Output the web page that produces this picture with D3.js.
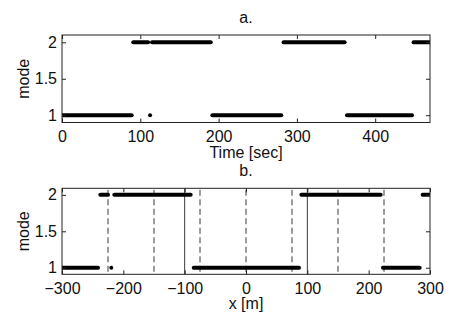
<!DOCTYPE html>
<html>
<head>
<meta charset="utf-8">
<script src="https://cdn.jsdelivr.net/npm/d3@7"></script>
<style>
  html, body { margin: 0; padding: 0; background: #fff; }
  svg { display: block; }
  text { font-family: "Liberation Sans", Arial, Helvetica, sans-serif; fill: #111; }
</style>
</head>
<body>
<svg id="chart" width="474" height="322"></svg>
<script>
// Panel a: mode as a function of time [sec] (segments of constant mode)
const timeMode1 = [[0, 89], [112.5, 112.5], [192, 280], [364, 447]];
const timeMode2 = [[91, 110], [115, 190], [283, 361], [449, 470]];
const timeTicks = [0, 100, 200, 300, 400];
const timeDomain = [0, 470];

// Panel b: mode as a function of position x [m]
const posMode1 = [[-300, -241.3], [-219.6, -219.6], [-85.2, 86.4], [223.3, 283.2]];
const posMode2 = [[-237.5, -225], [-214.7, -90.2], [90.3, 219.6], [288, 300]];
const posTicks = [-300, -200, -100, 0, 100, 200, 300];
const posDomain = [-300, 300];
const solidMarkers = [-100, 100];
const dashedMarkers = [-225, -150, -75, 0, 75, 150, 225];

const modeTicks = [1, 1.5, 2];

const svg = d3.select("#chart");
const left = 62, right = 430;
const fontSize = 16;

function panel(opts) {
  const { top, height, xDomain, yDomain, xTicks, title, xLabel, mode1, mode2, solid, dashed, id } = opts;
  const x = d3.scaleLinear().domain(xDomain).range([left, right]);
  const y = d3.scaleLinear().domain(yDomain).range([top + height, top]);
  const g = svg.append("g");

  g.append("clipPath").attr("id", id)
    .append("rect").attr("x", left).attr("y", top)
    .attr("width", right - left).attr("height", height);

  // reference lines
  const refs = g.append("g").attr("clip-path", `url(#${id})`);
  refs.selectAll("line.solid").data(solid || []).join("line")
    .attr("class", "solid")
    .attr("x1", d => x(d)).attr("x2", d => x(d))
    .attr("y1", top).attr("y2", top + height)
    .attr("stroke", "#222").attr("stroke-width", 0.9);
  refs.selectAll("line.dashed").data(dashed || []).join("line")
    .attr("class", "dashed")
    .attr("x1", d => x(d)).attr("x2", d => x(d))
    .attr("y1", top + 1.5).attr("y2", top + height)
    .attr("stroke", "#222").attr("stroke-width", 0.9)
    .attr("stroke-dasharray", "6,3.5");

  // mode segments
  const segs = g.append("g").attr("clip-path", `url(#${id})`);
  const all = mode1.map(s => ({ s, m: 1 })).concat(mode2.map(s => ({ s, m: 2 })));
  segs.selectAll("line.seg").data(all).join("line")
    .attr("class", "seg")
    .attr("x1", d => x(d.s[0])).attr("x2", d => x(d.s[1]))
    .attr("y1", d => y(d.m)).attr("y2", d => y(d.m))
    .attr("stroke", "#000").attr("stroke-width", 4)
    .attr("stroke-linecap", "round");

  // axes with inward ticks on all four sides
  const tickLen = 4;
  g.append("g").attr("transform", `translate(0,${top + height})`)
    .call(d3.axisBottom(x).tickValues(xTicks).tickSizeInner(-tickLen).tickSizeOuter(0).tickPadding(8))
    .call(a => a.select(".domain").remove())
    .call(a => a.selectAll("text").attr("font-size", fontSize).attr("dy", "0.71em"));
  g.append("g").attr("transform", `translate(0,${top})`)
    .call(d3.axisTop(x).tickValues(xTicks).tickSizeInner(-tickLen).tickSizeOuter(0).tickFormat(""))
    .call(a => a.select(".domain").remove());
  g.append("g").attr("transform", `translate(${left},0)`)
    .call(d3.axisLeft(y).tickValues(modeTicks).tickSizeInner(-tickLen).tickSizeOuter(0).tickPadding(5).tickFormat(d3.format("")))
    .call(a => a.select(".domain").remove())
    .call(a => a.selectAll("text").attr("font-size", fontSize));
  g.append("g").attr("transform", `translate(${right},0)`)
    .call(d3.axisRight(y).tickValues(modeTicks).tickSizeInner(-tickLen).tickSizeOuter(0).tickFormat(""))
    .call(a => a.select(".domain").remove());
  g.selectAll(".tick line").attr("stroke", "#222");

  g.append("rect").attr("x", left).attr("y", top)
    .attr("width", right - left).attr("height", height)
    .attr("fill", "none").attr("stroke", "#222").attr("stroke-width", 1);

  g.append("text").attr("x", 246).attr("y", top - 12)
    .attr("text-anchor", "middle").attr("font-size", fontSize).text(title);
  g.append("text").attr("x", 246).attr("y", top + height + 35)
    .attr("text-anchor", "middle").attr("font-size", fontSize).text(xLabel);
  g.append("text")
    .attr("transform", `translate(29,${top + height / 2}) rotate(-90)`)
    .attr("text-anchor", "middle").attr("font-size", fontSize).text("mode");
}

panel({
  id: "clipA", top: 35, height: 87.5, xDomain: timeDomain, yDomain: [0.9, 2.1],
  xTicks: timeTicks, title: "a.", xLabel: "Time [sec]",
  mode1: timeMode1, mode2: timeMode2
});

panel({
  id: "clipB", top: 188.3, height: 86, xDomain: posDomain, yDomain: [0.91, 2.09],
  xTicks: posTicks, title: "b.", xLabel: "x [m]",
  mode1: posMode1, mode2: posMode2, solid: solidMarkers, dashed: dashedMarkers
});
</script>
</body>
</html>
